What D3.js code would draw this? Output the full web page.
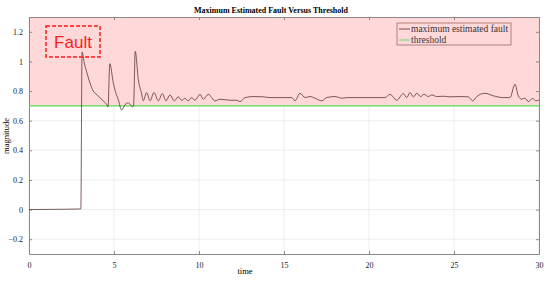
<!DOCTYPE html>
<html>
<head>
  <meta charset="utf-8">
  <script src="https://d3js.org/d3.v7.min.js"></script>
  <style>
    body { margin: 0; background: #fff; }
    text { font-family: "Liberation Serif", "DejaVu Serif", serif; }
  </style>
</head>
<body>
  <script>
    const times = [0, 1, 2, 3.0, 3.05, 3.12, 3.25, 3.39, 3.6, 3.78, 4.0, 4.18, 4.4, 4.57, 4.65,
      4.75, 4.96, 5.1, 5.25, 5.45, 5.65, 5.84, 6.1, 6.15, 6.25, 6.43, 6.63, 6.72, 6.92, 7.12,
      7.35, 7.61, 7.84, 8.06, 8.29, 8.55, 8.78, 8.98, 9.18, 9.37, 9.57, 9.76, 10.06, 10.25,
      10.55, 10.94, 11.24, 11.82, 12.22, 12.41, 12.71, 13.19, 13.78, 14.18, 15.45, 15.65,
      15.94, 16.24, 16.53, 16.82, 17.22, 17.51, 18.0, 18.39, 18.78, 19.76, 20.94, 21.24,
      21.63, 22.02, 22.22, 22.41, 22.61, 22.81, 23.04, 23.24, 23.49, 23.69, 23.98, 24.37,
      24.76, 25.35, 25.84, 26.1, 26.34, 26.82, 27.31, 27.9, 28.29, 28.59, 28.78, 28.98,
      29.18, 29.37, 29.63, 29.82, 30];
    const faultValues = [0, 0.001, 0.002, 0.004, 0.005, 1.064, 0.99, 0.93, 0.85, 0.80, 0.775, 0.754, 0.73, 0.71, 0.694,
      0.985, 0.855, 0.79, 0.743, 0.672, 0.709, 0.72, 0.694, 0.70, 1.068, 0.877, 0.78, 0.734, 0.79, 0.734,
      0.79, 0.734, 0.783, 0.734, 0.774, 0.734, 0.761, 0.738, 0.75, 0.734, 0.756, 0.738, 0.778, 0.745,
      0.778, 0.734, 0.745, 0.738, 0.738, 0.729, 0.756, 0.763, 0.761, 0.756, 0.756, 0.734,
      0.785, 0.756, 0.763, 0.752, 0.734, 0.756, 0.763, 0.752, 0.756, 0.756, 0.756, 0.778,
      0.738, 0.783, 0.756, 0.79, 0.761, 0.785, 0.763, 0.778, 0.763, 0.774, 0.763, 0.765,
      0.761, 0.763, 0.761, 0.734, 0.763, 0.785, 0.768, 0.756, 0.756, 0.846, 0.768, 0.745,
      0.752, 0.729, 0.75, 0.734, 0.74];
    const threshold = 0.7;
    const xTicks = [0, 5, 10, 15, 20, 25, 30];
    const yTicks = [-0.2, 0, 0.2, 0.4, 0.6, 0.8, 1, 1.2];
    const legendLabels = ["maximum estimated fault", "threshold"];

    const width = 550, height = 281;
    const margin = { top: 17, right: 11, bottom: 27, left: 29 };
    const innerW = width - margin.left - margin.right;
    const innerH = height - margin.top - margin.bottom;

    const svg = d3.select("body").append("svg")
      .attr("width", width).attr("height", height);

    const x = d3.scaleLinear().domain([0, 30]).range([margin.left, margin.left + innerW]);
    const y = d3.scaleLinear().domain([-0.3, 1.3]).range([margin.top + innerH, margin.top]);

    // grid
    svg.append("g").selectAll("line").data(xTicks).join("line")
      .attr("x1", d => x(d)).attr("x2", d => x(d))
      .attr("y1", y(-0.3)).attr("y2", y(1.3))
      .attr("stroke", "#e8e8e8").attr("stroke-width", 0.8);
    svg.append("g").selectAll("line").data(yTicks).join("line")
      .attr("x1", x(0)).attr("x2", x(30))
      .attr("y1", d => y(d)).attr("y2", d => y(d))
      .attr("stroke", "#e8e8e8").attr("stroke-width", 0.8);

    // shaded fault region above threshold
    svg.append("rect")
      .attr("x", x(0)).attr("y", y(1.3))
      .attr("width", x(30) - x(0)).attr("height", y(threshold) - y(1.3))
      .attr("fill", "#ffd9d9");

    // axes (ticks pointing inward, box style)
    const tickStyle = g => {
      g.select(".domain").attr("stroke", "#8a8a8a");
      g.selectAll(".tick line").attr("stroke", "#8a8a8a");
      g.selectAll(".tick text").attr("fill", "#222").style("font-size", "8px")
        .style("font-family", "Liberation Serif, serif");
    };
    svg.append("g").attr("transform", `translate(0,${y(-0.3)})`)
      .call(d3.axisBottom(x).tickValues(xTicks).tickSize(-3).tickPadding(8).tickSizeOuter(0))
      .call(tickStyle);
    svg.append("g").attr("transform", `translate(0,${y(1.3)})`)
      .call(d3.axisTop(x).tickValues(xTicks).tickSize(-3).tickFormat("").tickSizeOuter(0))
      .call(tickStyle);
    svg.append("g").attr("transform", `translate(${x(0)},0)`)
      .call(d3.axisLeft(y).tickValues(yTicks).tickSize(-3).tickPadding(6).tickSizeOuter(0)
        .tickFormat(d => d3.format("")(+d.toFixed(1))))
      .call(tickStyle);
    svg.append("g").attr("transform", `translate(${x(30)},0)`)
      .call(d3.axisRight(y).tickValues(yTicks).tickSize(-3).tickFormat("").tickSizeOuter(0))
      .call(tickStyle);

    // threshold line
    svg.append("line")
      .attr("x1", x(0)).attr("x2", x(30))
      .attr("y1", y(threshold)).attr("y2", y(threshold))
      .attr("stroke", "#55dd55").attr("stroke-width", 1.2);

    // fault estimate
    const data = times.map((t, i) => [t, faultValues[i]]);
    svg.append("path")
      .datum(data)
      .attr("fill", "none")
      .attr("stroke", "#5a3535")
      .attr("stroke-width", 0.8)
      .attr("d", d3.line().x(d => x(d[0])).y(d => y(d[1])).curve(d3.curveMonotoneX));

    // title and axis labels
    svg.append("text").attr("x", 271).attr("y", 13).attr("text-anchor", "middle")
      .style("font-size", "8px").style("font-weight", "bold")
      .text("Maximum Estimated Fault Versus Threshold");
    svg.append("text").attr("x", 245).attr("y", 274).attr("text-anchor", "middle")
      .style("font-size", "8.5px").text("time");
    svg.append("text").attr("transform", "translate(9,136) rotate(-90)")
      .attr("text-anchor", "middle").style("font-size", "8.5px").text("magnitude");

    // legend
    const lg = svg.append("g").attr("transform", "translate(397,23)");
    lg.append("rect").attr("width", 114).attr("height", 22)
      .attr("fill", "none").attr("stroke", "#a06868").attr("stroke-width", 0.8);
    const legendColors = ["#7a5050", "#66dd66"];
    legendLabels.forEach((lab, i) => {
      lg.append("line").attr("x1", 2).attr("x2", 13)
        .attr("y1", 6 + i * 11).attr("y2", 6 + i * 11)
        .attr("stroke", legendColors[i]).attr("stroke-width", 1);
      lg.append("text").attr("x", 14).attr("y", 9 + i * 11)
        .style("font-size", "9.5px").attr("fill", "#333").text(lab);
    });

    // "Fault" annotation
    svg.append("rect").attr("x", 46).attr("y", 26).attr("width", 54).attr("height", 31)
      .attr("fill", "none").attr("stroke", "#ff1a1a").attr("stroke-width", 1.5)
      .attr("stroke-dasharray", "4,2");
    svg.append("text").attr("x", 73).attr("y", 48).attr("text-anchor", "middle")
      .style("font-family", "Liberation Sans, Arial, sans-serif").style("font-size", "17px")
      .attr("fill", "#ff1a1a").text("Fault");
  </script>
</body>
</html>
